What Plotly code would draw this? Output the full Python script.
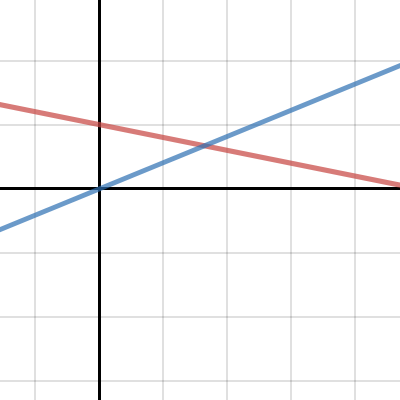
import plotly.graph_objects as go

# line endpoints (one grid square = 1 unit)
xs = [-2, 5]
red_y = [1.41, 0.0]      # y ~ 1 - x/5
blue_y = [-0.82, 2.05]   # y ~ 0.41x

x_ticks = [-1, 0, 1, 2, 3, 4]
y_ticks = [-3, -2, -1, 0, 1, 2]

fig = go.Figure()
fig.add_trace(go.Scatter(x=xs, y=red_y, mode='lines', line=dict(color='#c74440', width=5), opacity=0.7))
fig.add_trace(go.Scatter(x=xs, y=blue_y, mode='lines', line=dict(color='#2d70b3', width=5), opacity=0.7))

axis = dict(showticklabels=False, ticks='', showgrid=True, gridcolor='rgba(0,0,0,0.12)', gridwidth=1.5,
	zeroline=True, zerolinecolor='black', zerolinewidth=3, showline=False, tickmode='array', fixedrange=True)
fig.update_xaxes(axis, range=[-1.547, 4.703], tickvals=x_ticks)
fig.update_yaxes(axis, range=[-3.297, 2.953], tickvals=y_ticks)
fig.update_layout(width=400, height=400, margin=dict(l=0, r=0, t=0, b=0), showlegend=False,
	plot_bgcolor='white', paper_bgcolor='white')
# drop the page's default body margin so the plot sits at the window corner
fig.write_html("out.html", config=dict(displayModeBar=False),
	post_script="document.body.style.margin='0';document.body.style.overflow='hidden';")
